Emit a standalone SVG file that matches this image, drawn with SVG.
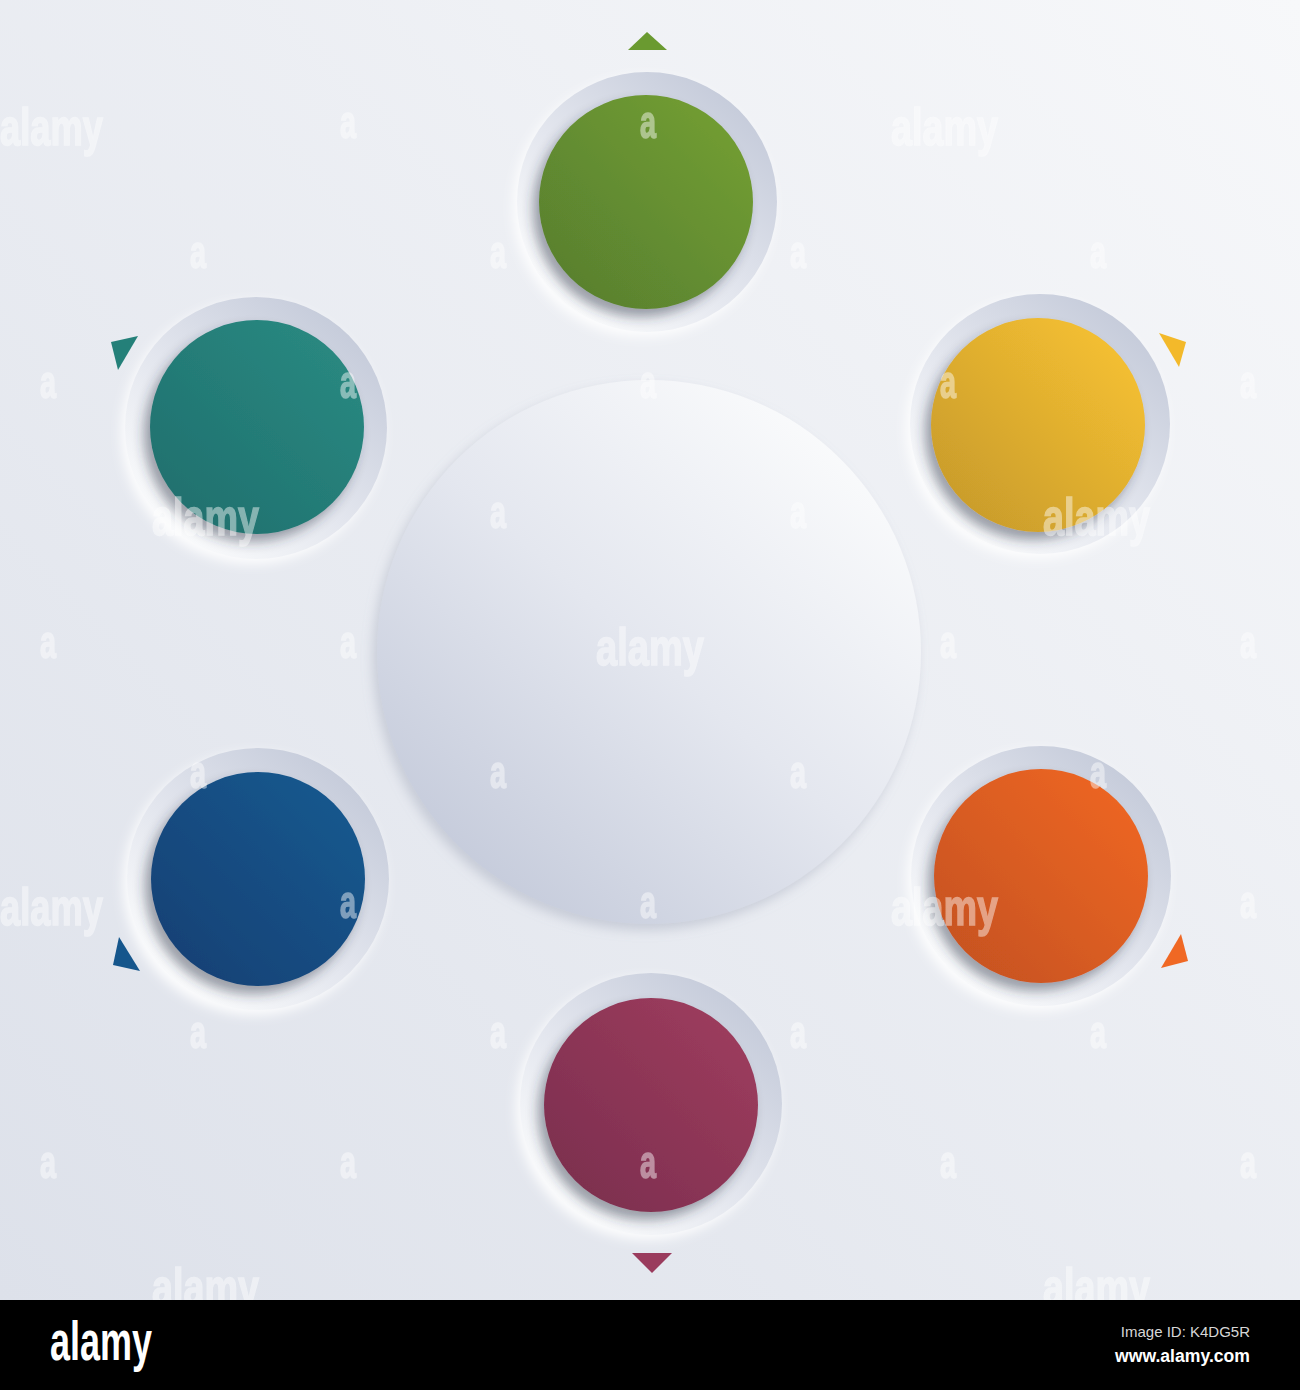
<svg xmlns="http://www.w3.org/2000/svg" width="1300" height="1390" viewBox="0 0 1300 1390">
<defs>
<linearGradient id="bg" x1="1" y1="0" x2="0" y2="1"><stop offset="0" stop-color="#f7f8fa"/><stop offset="1" stop-color="#dde1ea"/></linearGradient>
<linearGradient id="ring" x1="0.85" y1="0.1" x2="0.15" y2="0.9"><stop offset="0" stop-color="#c5cbda"/><stop offset="0.55" stop-color="#e3e6ee"/><stop offset="1" stop-color="#fafbfc"/></linearGradient>
<linearGradient id="hub" x1="0.85" y1="0.1" x2="0.15" y2="0.9"><stop offset="0" stop-color="#fafbfc"/><stop offset="0.5" stop-color="#e4e7ef"/><stop offset="1" stop-color="#c5cbdb"/></linearGradient>
<linearGradient id="gGreen" x1="1" y1="0" x2="0" y2="1"><stop offset="0" stop-color="#75a133"/><stop offset="1" stop-color="#557c2e"/></linearGradient>
<linearGradient id="gYellow" x1="1" y1="0" x2="0" y2="1"><stop offset="0" stop-color="#fbc532"/><stop offset="1" stop-color="#c3972b"/></linearGradient>
<linearGradient id="gTeal" x1="1" y1="0" x2="0" y2="1"><stop offset="0" stop-color="#2b8c83"/><stop offset="1" stop-color="#1e6d6c"/></linearGradient>
<linearGradient id="gBlue" x1="1" y1="0" x2="0" y2="1"><stop offset="0" stop-color="#175b91"/><stop offset="1" stop-color="#133e72"/></linearGradient>
<linearGradient id="gOrange" x1="1" y1="0" x2="0" y2="1"><stop offset="0" stop-color="#f26823"/><stop offset="1" stop-color="#c2511f"/></linearGradient>
<linearGradient id="gMagenta" x1="1" y1="0" x2="0" y2="1"><stop offset="0" stop-color="#a13e5f"/><stop offset="1" stop-color="#782d4d"/></linearGradient>
<filter id="dsh" x="-30%" y="-30%" width="160%" height="160%"><feDropShadow dx="-6" dy="8" stdDeviation="6" flood-color="#2c3346" flood-opacity="0.45"/></filter>
<filter id="rsh" x="-30%" y="-30%" width="160%" height="160%"><feDropShadow dx="-4" dy="5" stdDeviation="6" flood-color="#ffffff" flood-opacity="0.9"/></filter>
<filter id="hsh" x="-20%" y="-20%" width="140%" height="140%"><feDropShadow dx="-4" dy="6" stdDeviation="6" flood-color="#8a93a8" flood-opacity="0.35"/></filter>
</defs>
<style>
.ring{fill:url(#ring);filter:url(#rsh)}
.disk{filter:url(#dsh)}
.wm{opacity:0.45;fill:#ffffff;stroke:#ffffff;stroke-width:1.5;font-family:"Liberation Sans",Arial,sans-serif;font-weight:bold}
.wa{font-size:46px}
.wl{font-size:52px}
.bar{fill:#ffffff;font-family:"Liberation Sans",Arial,sans-serif}
</style>
<rect x="0" y="0" width="1300" height="1300" fill="url(#bg)"/>

<g id="hub-node"><circle cx="649" cy="652" r="272" fill="url(#hub)" filter="url(#hsh)"/></g>

<g id="node-green">
<circle class="ring" cx="647" cy="202" r="130"/>
<circle class="disk" cx="646" cy="202" r="107" fill="url(#gGreen)"/>
<polygon points="647,32 628,50 667,50" fill="#6a9a30"/>
</g>
<g id="node-yellow">
<circle class="ring" cx="1040" cy="424" r="130"/>
<circle class="disk" cx="1038" cy="425" r="107" fill="url(#gYellow)"/>
<polygon points="1159,333 1186,342 1179,367" fill="#f3b92a"/>
</g>
<g id="node-orange">
<circle class="ring" cx="1041" cy="876" r="130"/>
<circle class="disk" cx="1041" cy="876" r="107" fill="url(#gOrange)"/>
<polygon points="1181,934 1188,961 1161,968" fill="#f06824"/>
</g>
<g id="node-magenta">
<circle class="ring" cx="651" cy="1104" r="131"/>
<circle class="disk" cx="651" cy="1105" r="107" fill="url(#gMagenta)"/>
<polygon points="632,1253 672,1253 652,1273" fill="#9a3b5d"/>
</g>
<g id="node-blue">
<circle class="ring" cx="258" cy="879" r="131"/>
<circle class="disk" cx="258" cy="879" r="107" fill="url(#gBlue)"/>
<polygon points="119,937 140,971 113,965" fill="#15568c"/>
</g>
<g id="node-teal">
<circle class="ring" cx="256" cy="428" r="131"/>
<circle class="disk" cx="257" cy="427" r="107" fill="url(#gTeal)"/>
<polygon points="111,342 138,336 118,370" fill="#248079"/>
</g>

<g id="connectors"></g>

<g id="watermark" class="wm">
<text class="wl" x="0" y="145" textLength="103" lengthAdjust="spacingAndGlyphs">alamy</text>
<text class="wl" x="891" y="145" textLength="107" lengthAdjust="spacingAndGlyphs">alamy</text>
<text class="wl" x="152" y="535" textLength="107" lengthAdjust="spacingAndGlyphs">alamy</text>
<text class="wl" x="1043" y="535" textLength="107" lengthAdjust="spacingAndGlyphs">alamy</text>
<text class="wl" x="596" y="665" textLength="108" lengthAdjust="spacingAndGlyphs">alamy</text>
<text class="wl" x="0" y="925" textLength="103" lengthAdjust="spacingAndGlyphs">alamy</text>
<text class="wl" x="891" y="925" textLength="107" lengthAdjust="spacingAndGlyphs">alamy</text>
<text class="wl" x="152" y="1305" textLength="107" lengthAdjust="spacingAndGlyphs">alamy</text>
<text class="wl" x="1043" y="1305" textLength="107" lengthAdjust="spacingAndGlyphs">alamy</text>
<g class="wa">
<text x="340" y="138" textLength="16" lengthAdjust="spacingAndGlyphs">a</text>
<text x="640" y="138" textLength="16" lengthAdjust="spacingAndGlyphs">a</text>
<text x="190" y="268" textLength="16" lengthAdjust="spacingAndGlyphs">a</text>
<text x="490" y="268" textLength="16" lengthAdjust="spacingAndGlyphs">a</text>
<text x="790" y="268" textLength="16" lengthAdjust="spacingAndGlyphs">a</text>
<text x="1090" y="268" textLength="16" lengthAdjust="spacingAndGlyphs">a</text>
<text x="40" y="398" textLength="16" lengthAdjust="spacingAndGlyphs">a</text>
<text x="340" y="398" textLength="16" lengthAdjust="spacingAndGlyphs">a</text>
<text x="640" y="398" textLength="16" lengthAdjust="spacingAndGlyphs">a</text>
<text x="940" y="398" textLength="16" lengthAdjust="spacingAndGlyphs">a</text>
<text x="1240" y="398" textLength="16" lengthAdjust="spacingAndGlyphs">a</text>
<text x="490" y="528" textLength="16" lengthAdjust="spacingAndGlyphs">a</text>
<text x="790" y="528" textLength="16" lengthAdjust="spacingAndGlyphs">a</text>
<text x="40" y="658" textLength="16" lengthAdjust="spacingAndGlyphs">a</text>
<text x="340" y="658" textLength="16" lengthAdjust="spacingAndGlyphs">a</text>
<text x="940" y="658" textLength="16" lengthAdjust="spacingAndGlyphs">a</text>
<text x="1240" y="658" textLength="16" lengthAdjust="spacingAndGlyphs">a</text>
<text x="190" y="788" textLength="16" lengthAdjust="spacingAndGlyphs">a</text>
<text x="490" y="788" textLength="16" lengthAdjust="spacingAndGlyphs">a</text>
<text x="790" y="788" textLength="16" lengthAdjust="spacingAndGlyphs">a</text>
<text x="1090" y="788" textLength="16" lengthAdjust="spacingAndGlyphs">a</text>
<text x="340" y="918" textLength="16" lengthAdjust="spacingAndGlyphs">a</text>
<text x="640" y="918" textLength="16" lengthAdjust="spacingAndGlyphs">a</text>
<text x="1240" y="918" textLength="16" lengthAdjust="spacingAndGlyphs">a</text>
<text x="190" y="1048" textLength="16" lengthAdjust="spacingAndGlyphs">a</text>
<text x="490" y="1048" textLength="16" lengthAdjust="spacingAndGlyphs">a</text>
<text x="790" y="1048" textLength="16" lengthAdjust="spacingAndGlyphs">a</text>
<text x="1090" y="1048" textLength="16" lengthAdjust="spacingAndGlyphs">a</text>
<text x="40" y="1178" textLength="16" lengthAdjust="spacingAndGlyphs">a</text>
<text x="340" y="1178" textLength="16" lengthAdjust="spacingAndGlyphs">a</text>
<text x="640" y="1178" textLength="16" lengthAdjust="spacingAndGlyphs">a</text>
<text x="940" y="1178" textLength="16" lengthAdjust="spacingAndGlyphs">a</text>
<text x="1240" y="1178" textLength="16" lengthAdjust="spacingAndGlyphs">a</text>
</g>
</g>

<g id="footer">
<rect x="0" y="1300" width="1300" height="90" fill="#000000"/>
<text class="bar" x="50" y="1360" font-size="55" font-weight="bold" textLength="102" lengthAdjust="spacingAndGlyphs">alamy</text>
<text class="bar" x="1250" y="1337" font-size="15" text-anchor="end" fill-opacity="0.85">Image ID: K4DG5R</text>
<text class="bar" x="1250" y="1362" font-size="18" font-weight="bold" text-anchor="end" textLength="135" lengthAdjust="spacingAndGlyphs">www.alamy.com</text>
</g>
</svg>
